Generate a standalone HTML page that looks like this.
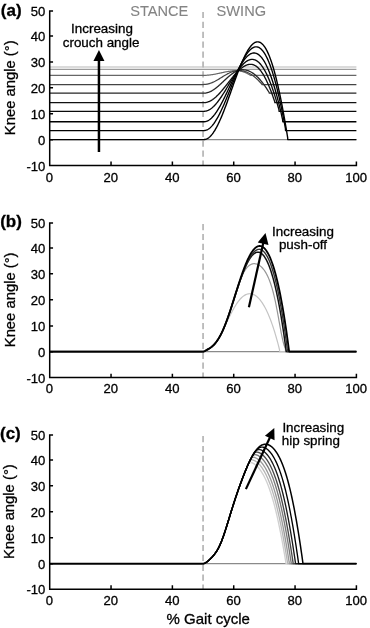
<!DOCTYPE html>
<html><head><meta charset="utf-8"><style>
html,body{margin:0;padding:0;background:#fff;}
svg{display:block;}
</style></head><body>
<svg width="370" height="628" viewBox="0 0 370 628" font-family="'Liberation Sans', Arial, Helvetica, sans-serif" fill="#000">
<style>text{stroke:#000;stroke-width:0.3px;} text.g{stroke:#848484;stroke-width:0.1px;}</style>
<rect width="370" height="628" fill="#fff"/>
<path d="M49.7 139.6H356.4" stroke="#8a8a8a" stroke-width="1.1" fill="none"/>
<path d="M203.05 11.9V165.5" stroke="#9e9e9e" stroke-width="1.3" stroke-dasharray="6.2 3.7" fill="none"/>
<path d="M49.7 67H356.4" stroke="#b8b8b8" stroke-width="1.2" fill="none"/>
<path d="M49.7 69.44H356.4" stroke="#9c9c9c" stroke-width="1.2" fill="none"/>
<path d="M49.7 75.35L203.05 75.35L203.51 75.35L203.97 75.35L204.43 75.34L204.89 75.33L205.35 75.32L205.81 75.3L206.27 75.28L206.73 75.25L207.19 75.22L207.65 75.18L208.11 75.14L208.57 75.1L209.03 75.05L209.49 75L209.95 74.95L210.41 74.89L210.87 74.83L211.33 74.77L211.79 74.7L212.25 74.63L212.71 74.55L213.17 74.48L213.63 74.4L214.09 74.32L214.55 74.23L215.01 74.15L215.47 74.06L215.93 73.97L216.39 73.87L216.85 73.78L217.31 73.68L217.77 73.59L218.23 73.49L218.69 73.39L219.15 73.29L219.61 73.19L220.07 73.09L220.53 72.99L220.99 72.89L221.45 72.79L221.91 72.69L222.37 72.59L222.83 72.5L223.29 72.4L223.75 72.3L224.21 72.21L224.67 72.11L225.13 72.02L225.59 71.93L226.05 71.84L226.51 71.76L226.97 71.68L227.43 71.59L227.89 71.52L228.35 71.44L228.81 71.37L229.27 71.3L229.73 71.23L230.19 71.17L230.65 71.11L231.11 71.05L231.57 71L232.03 70.95L232.49 70.91L232.95 70.87L233.41 70.84L233.87 70.81L234.33 70.78L234.79 70.76L235.25 70.74L235.71 70.73L236.17 70.73L236.63 70.72L237.09 70.73L237.55 70.75L238.01 70.78L238.47 70.81L238.93 70.86L239.39 70.92L239.85 70.99L240.31 71.06L240.77 71.15L241.23 71.25L241.69 71.36L242.15 71.48L242.61 71.61L243.07 71.75L243.53 71.91L243.99 72.07L244.45 72.24L244.91 72.42L245.37 72.62L245.83 72.82L246.29 73.03L246.75 73.26L247.21 73.49L247.67 73.73L248.13 73.98L248.59 74.24L249.05 74.51L249.52 74.79L249.98 75.07L250.28 75.35L356.4 75.35" stroke="#676767" stroke-width="1.2" fill="none" stroke-linejoin="round"/>
<path d="M49.7 84.5L203.05 84.5L203.51 84.5L203.97 84.49L204.43 84.47L204.89 84.45L205.35 84.41L205.81 84.36L206.27 84.3L206.73 84.23L207.19 84.15L207.65 84.06L208.11 83.95L208.57 83.84L209.03 83.71L209.49 83.58L209.95 83.43L210.41 83.28L210.87 83.11L211.33 82.94L211.79 82.76L212.25 82.57L212.71 82.37L213.17 82.16L213.63 81.94L214.09 81.72L214.55 81.49L215.01 81.26L215.47 81.01L215.93 80.76L216.39 80.51L216.85 80.25L217.31 79.99L217.77 79.72L218.23 79.44L218.69 79.17L219.15 78.89L219.61 78.61L220.07 78.33L220.53 78.04L220.99 77.76L221.45 77.47L221.91 77.19L222.37 76.9L222.83 76.62L223.29 76.33L223.75 76.05L224.21 75.77L224.67 75.5L225.13 75.22L225.59 74.95L226.05 74.69L226.51 74.43L226.97 74.17L227.43 73.92L227.89 73.67L228.35 73.43L228.81 73.2L229.27 72.97L229.73 72.75L230.19 72.54L230.65 72.34L231.11 72.14L231.57 71.96L232.03 71.78L232.49 71.61L232.95 71.45L233.41 71.31L233.87 71.17L234.33 71.04L234.79 70.93L235.25 70.83L235.71 70.74L236.17 70.66L236.63 70.6L237.09 70.54L237.55 70.5L238.01 70.48L238.47 70.47L238.93 70.47L239.39 70.48L239.85 70.5L240.31 70.53L240.77 70.58L241.23 70.63L241.69 70.69L242.15 70.77L242.61 70.85L243.07 70.95L243.53 71.06L243.99 71.17L244.45 71.3L244.91 71.44L245.37 71.59L245.83 71.75L246.29 71.93L246.75 72.11L247.21 72.31L247.67 72.51L248.13 72.73L248.59 72.96L249.05 73.2L249.52 73.45L249.98 73.71L250.44 73.99L250.9 74.27L251.36 74.57L251.82 74.88L252.28 75.19L252.74 75.52L253.2 75.86L253.66 76.21L254.12 76.57L254.58 76.95L255.04 77.33L255.5 77.72L255.96 78.13L256.42 78.54L256.88 78.96L257.34 79.4L257.8 79.84L258.26 80.29L258.72 80.76L259.18 81.23L259.64 81.71L260.1 82.2L260.56 82.7L261.02 83.21L261.48 83.72L261.94 84.25L261.94 84.5L356.4 84.5" stroke="#444444" stroke-width="1.25" fill="none" stroke-linejoin="round"/>
<path d="M49.7 93.21L203.05 93.21L203.51 93.21L203.97 93.2L204.43 93.17L204.89 93.14L205.35 93.09L205.81 93.03L206.27 92.95L206.73 92.86L207.19 92.74L207.65 92.62L208.11 92.47L208.57 92.32L209.03 92.15L209.49 91.96L209.95 91.76L210.41 91.55L210.87 91.32L211.33 91.08L211.79 90.83L212.25 90.56L212.71 90.28L213.17 89.99L213.63 89.69L214.09 89.38L214.55 89.06L215.01 88.72L215.47 88.38L215.93 88.02L216.39 87.66L216.85 87.29L217.31 86.91L217.77 86.52L218.23 86.13L218.69 85.73L219.15 85.32L219.61 84.91L220.07 84.5L220.53 84.07L220.99 83.65L221.45 83.22L221.91 82.79L222.37 82.36L222.83 81.93L223.29 81.49L223.75 81.06L224.21 80.63L224.67 80.2L225.13 79.76L225.59 79.34L226.05 78.91L226.51 78.49L226.97 78.07L227.43 77.65L227.89 77.24L228.35 76.84L228.81 76.44L229.27 76.05L229.73 75.66L230.19 75.29L230.65 74.92L231.11 74.55L231.57 74.2L232.03 73.86L232.49 73.53L232.95 73.2L233.41 72.89L233.87 72.59L234.33 72.31L234.79 72.03L235.25 71.77L235.71 71.52L236.17 71.29L236.63 71.07L237.09 70.86L237.55 70.67L238.01 70.5L238.47 70.34L238.93 70.2L239.39 70.07L239.85 69.96L240.31 69.87L240.77 69.8L241.23 69.75L241.69 69.71L242.15 69.7L242.61 69.7L243.07 69.71L243.53 69.74L243.99 69.78L244.45 69.83L244.91 69.9L245.37 69.98L245.83 70.07L246.29 70.18L246.75 70.3L247.21 70.43L247.67 70.57L248.13 70.73L248.59 70.91L249.05 71.09L249.52 71.29L249.98 71.51L250.44 71.74L250.9 71.98L251.36 72.24L251.82 72.51L252.28 72.79L252.74 73.09L253.2 73.4L253.66 73.73L254.12 74.07L254.58 74.43L255.04 74.8L255.5 75.18L255.96 75.57L256.42 75.99L256.88 76.41L257.34 76.85L257.8 77.3L258.26 77.77L258.72 78.25L259.18 78.74L259.64 79.24L260.1 79.76L260.56 80.3L261.02 80.84L261.48 81.4L261.94 81.98L262.4 82.56L262.86 83.16L263.32 83.77L263.78 84.39L264.24 85.03L264.7 85.68L265.16 86.34L265.62 87.01L266.08 87.69L266.54 88.39L267 89.09L267.46 89.81L267.92 90.54L268.38 91.28L268.84 92.03L269.3 92.79L269.3 93.21L356.4 93.21" stroke="#262626" stroke-width="1.3" fill="none" stroke-linejoin="round"/>
<path d="M49.7 102.69L203.05 102.69L203.51 102.69L203.97 102.68L204.43 102.65L204.89 102.62L205.35 102.57L205.81 102.51L206.27 102.42L206.73 102.33L207.19 102.21L207.65 102.07L208.11 101.91L208.57 101.74L209.03 101.56L209.49 101.35L209.95 101.13L210.41 100.89L210.87 100.64L211.33 100.37L211.79 100.09L212.25 99.79L212.71 99.48L213.17 99.15L213.63 98.81L214.09 98.45L214.55 98.08L215.01 97.69L215.47 97.3L215.93 96.89L216.39 96.47L216.85 96.03L217.31 95.58L217.77 95.13L218.23 94.66L218.69 94.18L219.15 93.69L219.61 93.19L220.07 92.69L220.53 92.17L220.99 91.64L221.45 91.11L221.91 90.57L222.37 90.03L222.83 89.47L223.29 88.92L223.75 88.35L224.21 87.79L224.67 87.21L225.13 86.64L225.59 86.06L226.05 85.48L226.51 84.9L226.97 84.31L227.43 83.73L227.89 83.14L228.35 82.56L228.81 81.98L229.27 81.39L229.73 80.81L230.19 80.23L230.65 79.66L231.11 79.08L231.57 78.52L232.03 77.95L232.49 77.39L232.95 76.84L233.41 76.29L233.87 75.75L234.33 75.21L234.79 74.68L235.25 74.16L235.71 73.65L236.17 73.15L236.63 72.65L237.09 72.17L237.55 71.69L238.01 71.23L238.47 70.78L238.93 70.33L239.39 69.91L239.85 69.49L240.31 69.08L240.77 68.69L241.23 68.32L241.69 67.95L242.15 67.6L242.61 67.27L243.07 66.95L243.53 66.65L243.99 66.37L244.45 66.1L244.91 65.85L245.37 65.61L245.83 65.4L246.29 65.2L246.75 65.02L247.21 64.86L247.67 64.72L248.13 64.6L248.59 64.5L249.05 64.42L249.52 64.36L249.98 64.32L250.44 64.3L250.9 64.3L251.36 64.33L251.82 64.39L252.28 64.47L252.74 64.58L253.2 64.71L253.66 64.87L254.12 65.06L254.58 65.28L255.04 65.52L255.5 65.79L255.96 66.08L256.42 66.41L256.88 66.76L257.34 67.14L257.8 67.55L258.26 67.99L258.72 68.45L259.18 68.95L259.64 69.47L260.1 70.02L260.56 70.6L261.02 71.21L261.48 71.84L261.94 72.51L262.4 73.2L262.86 73.92L263.32 74.67L263.78 75.45L264.24 76.25L264.7 77.09L265.16 77.95L265.62 78.84L266.08 79.75L266.54 80.7L267 81.67L267.46 82.66L267.92 83.68L268.38 84.73L268.84 85.81L269.3 86.91L269.76 88.04L270.22 89.19L270.68 90.37L271.14 91.57L271.6 92.79L272.06 94.04L272.52 95.31L272.98 96.61L273.44 97.92L273.9 99.26L274.36 100.63L274.82 102.01L274.82 102.69L356.4 102.69" stroke="#111111" stroke-width="1.35" fill="none" stroke-linejoin="round"/>
<path d="M49.7 111.33L203.05 111.33L203.51 111.33L203.97 111.31L204.43 111.28L204.89 111.23L205.35 111.17L205.81 111.09L206.27 110.99L206.73 110.87L207.19 110.72L207.65 110.54L208.11 110.35L208.57 110.13L209.03 109.9L209.49 109.64L209.95 109.36L210.41 109.06L210.87 108.74L211.33 108.4L211.79 108.04L212.25 107.66L212.71 107.26L213.17 106.84L213.63 106.41L214.09 105.95L214.55 105.48L215.01 104.99L215.47 104.49L215.93 103.96L216.39 103.43L216.85 102.87L217.31 102.3L217.77 101.72L218.23 101.12L218.69 100.51L219.15 99.88L219.61 99.24L220.07 98.59L220.53 97.93L220.99 97.25L221.45 96.57L221.91 95.87L222.37 95.17L222.83 94.46L223.29 93.74L223.75 93.01L224.21 92.27L224.67 91.53L225.13 90.79L225.59 90.03L226.05 89.28L226.51 88.52L226.97 87.76L227.43 87L227.89 86.23L228.35 85.46L228.81 84.7L229.27 83.93L229.73 83.17L230.19 82.4L230.65 81.64L231.11 80.89L231.57 80.13L232.03 79.38L232.49 78.64L232.95 77.9L233.41 77.17L233.87 76.44L234.33 75.72L234.79 75.01L235.25 74.31L235.71 73.61L236.17 72.93L236.63 72.25L237.09 71.59L237.55 70.94L238.01 70.3L238.47 69.67L238.93 69.06L239.39 68.46L239.85 67.87L240.31 67.3L240.77 66.75L241.23 66.21L241.69 65.69L242.15 65.18L242.61 64.69L243.07 64.22L243.53 63.77L243.99 63.34L244.45 62.93L244.91 62.53L245.37 62.16L245.83 61.81L246.29 61.49L246.75 61.18L247.21 60.9L247.67 60.64L248.13 60.4L248.59 60.19L249.05 60.01L249.52 59.84L249.98 59.71L250.44 59.6L250.9 59.51L251.36 59.45L251.82 59.42L252.28 59.42L252.74 59.44L253.2 59.49L253.66 59.57L254.12 59.68L254.58 59.81L255.04 59.98L255.5 60.17L255.96 60.4L256.42 60.65L256.88 60.93L257.34 61.24L257.8 61.59L258.26 61.96L258.72 62.36L259.18 62.79L259.64 63.26L260.1 63.75L260.56 64.28L261.02 64.83L261.48 65.42L261.94 66.04L262.4 66.69L262.86 67.37L263.32 68.08L263.78 68.82L264.24 69.6L264.7 70.4L265.16 71.23L265.62 72.1L266.08 73L266.54 73.92L267 74.88L267.46 75.87L267.92 76.89L268.38 77.93L268.84 79.01L269.3 80.12L269.76 81.26L270.22 82.43L270.68 83.62L271.14 84.85L271.6 86.1L272.06 87.38L272.52 88.7L272.98 90.03L273.44 91.4L273.9 92.8L274.36 94.22L274.82 95.66L275.28 97.14L275.74 98.64L276.2 100.17L276.66 101.72L277.12 103.29L277.58 104.89L278.04 106.52L278.5 108.17L278.96 109.84L279.11 111.33L356.4 111.33" stroke="#0a0a0a" stroke-width="1.35" fill="none" stroke-linejoin="round"/>
<path d="M49.7 121.79L203.05 121.79L203.51 121.78L203.97 121.76L204.43 121.73L204.89 121.67L205.35 121.6L205.81 121.5L206.27 121.38L206.73 121.23L207.19 121.05L207.65 120.83L208.11 120.6L208.57 120.33L209.03 120.04L209.49 119.72L209.95 119.38L210.41 119.01L210.87 118.62L211.33 118.2L211.79 117.76L212.25 117.29L212.71 116.8L213.17 116.29L213.63 115.75L214.09 115.19L214.55 114.61L215.01 114L215.47 113.38L215.93 112.73L216.39 112.06L216.85 111.38L217.31 110.67L217.77 109.94L218.23 109.2L218.69 108.44L219.15 107.66L219.61 106.87L220.07 106.06L220.53 105.23L220.99 104.39L221.45 103.53L221.91 102.67L222.37 101.78L222.83 100.89L223.29 99.99L223.75 99.07L224.21 98.15L224.67 97.22L225.13 96.28L225.59 95.33L226.05 94.37L226.51 93.41L226.97 92.45L227.43 91.48L227.89 90.5L228.35 89.53L228.81 88.55L229.27 87.57L229.73 86.59L230.19 85.62L230.65 84.64L231.11 83.66L231.57 82.69L232.03 81.72L232.49 80.76L232.95 79.8L233.41 78.84L233.87 77.9L234.33 76.96L234.79 76.03L235.25 75.1L235.71 74.19L236.17 73.28L236.63 72.39L237.09 71.51L237.55 70.64L238.01 69.78L238.47 68.94L238.93 68.11L239.39 67.29L239.85 66.49L240.31 65.71L240.77 64.95L241.23 64.2L241.69 63.47L242.15 62.76L242.61 62.07L243.07 61.4L243.53 60.75L243.99 60.12L244.45 59.51L244.91 58.93L245.37 58.37L245.83 57.84L246.29 57.33L246.75 56.84L247.21 56.38L247.67 55.95L248.13 55.55L248.59 55.17L249.05 54.82L249.52 54.5L249.98 54.21L250.44 53.95L250.9 53.72L251.36 53.52L251.82 53.35L252.28 53.21L252.74 53.11L253.2 53.04L253.66 53L254.12 52.99L254.58 53.02L255.04 53.08L255.5 53.17L255.96 53.29L256.42 53.45L256.88 53.64L257.34 53.87L257.8 54.13L258.26 54.42L258.72 54.75L259.18 55.11L259.64 55.51L260.1 55.94L260.56 56.4L261.02 56.91L261.48 57.44L261.94 58.02L262.4 58.62L262.86 59.27L263.32 59.95L263.78 60.66L264.24 61.42L264.7 62.2L265.16 63.03L265.62 63.89L266.08 64.78L266.54 65.71L267 66.68L267.46 67.69L267.92 68.72L268.38 69.8L268.84 70.91L269.3 72.06L269.76 73.24L270.22 74.46L270.68 75.71L271.14 77L271.6 78.32L272.06 79.67L272.52 81.07L272.98 82.49L273.44 83.95L273.9 85.45L274.36 86.97L274.82 88.54L275.28 90.13L275.74 91.76L276.2 93.42L276.66 95.11L277.12 96.83L277.58 98.59L278.04 100.37L278.5 102.19L278.96 104.04L279.42 105.91L279.88 107.82L280.34 109.76L280.8 111.72L281.26 113.72L281.72 115.74L282.18 117.79L282.64 119.86L282.79 121.79L356.4 121.79" stroke="#000" stroke-width="1.35" fill="none" stroke-linejoin="round"/>
<path d="M49.7 130.6L203.05 130.6L203.51 130.6L203.97 130.58L204.43 130.54L204.89 130.48L205.35 130.39L205.81 130.28L206.27 130.15L206.73 129.98L207.19 129.78L207.65 129.55L208.11 129.28L208.57 128.99L209.03 128.66L209.49 128.31L209.95 127.93L210.41 127.52L210.87 127.08L211.33 126.61L211.79 126.11L212.25 125.59L212.71 125.04L213.17 124.46L213.63 123.86L214.09 123.23L214.55 122.57L215.01 121.89L215.47 121.19L215.93 120.46L216.39 119.71L216.85 118.93L217.31 118.14L217.77 117.32L218.23 116.48L218.69 115.62L219.15 114.74L219.61 113.84L220.07 112.92L220.53 111.98L220.99 111.02L221.45 110.05L221.91 109.06L222.37 108.06L222.83 107.04L223.29 106.01L223.75 104.96L224.21 103.9L224.67 102.83L225.13 101.75L225.59 100.66L226.05 99.56L226.51 98.45L226.97 97.34L227.43 96.22L227.89 95.09L228.35 93.96L228.81 92.82L229.27 91.68L229.73 90.54L230.19 89.4L230.65 88.25L231.11 87.11L231.57 85.97L232.03 84.83L232.49 83.69L232.95 82.55L233.41 81.42L233.87 80.3L234.33 79.18L234.79 78.07L235.25 76.96L235.71 75.86L236.17 74.78L236.63 73.7L237.09 72.63L237.55 71.57L238.01 70.53L238.47 69.5L238.93 68.48L239.39 67.47L239.85 66.48L240.31 65.51L240.77 64.55L241.23 63.61L241.69 62.69L242.15 61.79L242.61 60.91L243.07 60.04L243.53 59.2L243.99 58.38L244.45 57.58L244.91 56.81L245.37 56.05L245.83 55.33L246.29 54.63L246.75 53.95L247.21 53.3L247.67 52.68L248.13 52.08L248.59 51.52L249.05 50.98L249.52 50.47L249.98 50L250.44 49.55L250.9 49.14L251.36 48.75L251.82 48.4L252.28 48.09L252.74 47.81L253.2 47.56L253.66 47.35L254.12 47.17L254.58 47.03L255.04 46.92L255.5 46.86L255.96 46.83L256.42 46.83L256.88 46.88L257.34 46.96L257.8 47.08L258.26 47.23L258.72 47.43L259.18 47.67L259.64 47.94L260.1 48.26L260.56 48.61L261.02 49.01L261.48 49.44L261.94 49.92L262.4 50.44L262.86 51L263.32 51.59L263.78 52.24L264.24 52.92L264.7 53.64L265.16 54.41L265.62 55.21L266.08 56.06L266.54 56.95L267 57.89L267.46 58.86L267.92 59.88L268.38 60.94L268.84 62.04L269.3 63.18L269.76 64.36L270.22 65.59L270.68 66.86L271.14 68.17L271.6 69.52L272.06 70.91L272.52 72.35L272.98 73.83L273.44 75.34L273.9 76.9L274.36 78.5L274.82 80.14L275.28 81.82L275.74 83.53L276.2 85.29L276.66 87.09L277.12 88.93L277.58 90.8L278.04 92.72L278.5 94.67L278.96 96.66L279.42 98.69L279.88 100.76L280.34 102.86L280.8 105L281.26 107.17L281.72 109.38L282.18 111.62L282.64 113.9L283.1 116.22L283.56 118.56L284.02 120.94L284.48 123.35L284.94 125.8L285.4 128.27L285.55 130.6L356.4 130.6" stroke="#000" stroke-width="1.35" fill="none" stroke-linejoin="round"/>
<path d="M49.7 139.6L203.05 139.6L203.51 139.59L203.97 139.57L204.43 139.52L204.89 139.46L205.35 139.37L205.81 139.25L206.27 139.1L206.73 138.92L207.19 138.7L207.65 138.45L208.11 138.16L208.57 137.83L209.03 137.48L209.49 137.09L209.95 136.67L210.41 136.21L210.87 135.73L211.33 135.21L211.79 134.67L212.25 134.09L212.71 133.48L213.17 132.85L213.63 132.18L214.09 131.48L214.55 130.76L215.01 130.01L215.47 129.23L215.93 128.43L216.39 127.6L216.85 126.74L217.31 125.85L217.77 124.95L218.23 124.02L218.69 123.06L219.15 122.08L219.61 121.08L220.07 120.06L220.53 119.02L220.99 117.96L221.45 116.87L221.91 115.77L222.37 114.65L222.83 113.52L223.29 112.37L223.75 111.2L224.21 110.02L224.67 108.82L225.13 107.61L225.59 106.39L226.05 105.15L226.51 103.91L226.97 102.66L227.43 101.4L227.89 100.13L228.35 98.85L228.81 97.57L229.27 96.28L229.73 94.99L230.19 93.7L230.65 92.4L231.11 91.11L231.57 89.81L232.03 88.51L232.49 87.22L232.95 85.92L233.41 84.63L233.87 83.35L234.33 82.07L234.79 80.79L235.25 79.52L235.71 78.26L236.17 77L236.63 75.76L237.09 74.52L237.55 73.3L238.01 72.09L238.47 70.89L238.93 69.7L239.39 68.52L239.85 67.37L240.31 66.22L240.77 65.1L241.23 63.99L241.69 62.89L242.15 61.82L242.61 60.77L243.07 59.73L243.53 58.72L243.99 57.73L244.45 56.77L244.91 55.82L245.37 54.9L245.83 54.01L246.29 53.14L246.75 52.3L247.21 51.48L247.67 50.69L248.13 49.93L248.59 49.21L249.05 48.51L249.52 47.84L249.98 47.2L250.44 46.6L250.9 46.03L251.36 45.49L251.82 44.99L252.28 44.52L252.74 44.08L253.2 43.69L253.66 43.33L254.12 43.01L254.58 42.72L255.04 42.47L255.5 42.27L255.96 42.1L256.42 41.97L256.88 41.88L257.34 41.84L257.8 41.83L258.26 41.87L258.72 41.95L259.18 42.07L259.64 42.23L260.1 42.44L260.56 42.69L261.02 42.98L261.48 43.32L261.94 43.71L262.4 44.14L262.86 44.61L263.32 45.13L263.78 45.69L264.24 46.3L264.7 46.96L265.16 47.66L265.62 48.41L266.08 49.2L266.54 50.04L267 50.93L267.46 51.87L267.92 52.85L268.38 53.88L268.84 54.95L269.3 56.07L269.76 57.24L270.22 58.46L270.68 59.72L271.14 61.03L271.6 62.39L272.06 63.8L272.52 65.25L272.98 66.74L273.44 68.29L273.9 69.88L274.36 71.51L274.82 73.2L275.28 74.93L275.74 76.7L276.2 78.52L276.66 80.39L277.12 82.3L277.58 84.25L278.04 86.25L278.5 88.29L278.96 90.38L279.42 92.51L279.88 94.69L280.34 96.9L280.8 99.16L281.26 101.47L281.72 103.81L282.18 106.19L282.64 108.62L283.1 111.09L283.56 113.59L284.02 116.14L284.48 118.72L284.94 121.34L285.4 124L285.86 126.7L286.32 129.43L286.78 132.2L287.24 135.01L287.7 137.85L287.7 139.6L356.4 139.6" stroke="#000" stroke-width="1.4" fill="none" stroke-linejoin="round"/>
<path d="M49.7 11V165.5H356.4M49.7 165.5h2.6M49.7 139.75h2.6M49.7 113.8h2.6M49.7 87.8h2.6M49.7 61.9h2.6M49.7 35.9h2.6M49.7 11h2.6M49.7 165.5v-3.2M111.04 165.5v-3.2M172.38 165.5v-3.2M233.72 165.5v-3.2M295.06 165.5v-3.2M356.4 165.5v-3.2" stroke="#000" stroke-width="1.5" fill="none" stroke-linecap="square"/>
<text x="45.4" y="170.5" text-anchor="end" font-size="13.1">-10</text>
<text x="45.4" y="144.75" text-anchor="end" font-size="13.1">0</text>
<text x="45.4" y="118.8" text-anchor="end" font-size="13.1">10</text>
<text x="45.4" y="92.8" text-anchor="end" font-size="13.1">20</text>
<text x="45.4" y="66.9" text-anchor="end" font-size="13.1">30</text>
<text x="45.4" y="40.9" text-anchor="end" font-size="13.1">40</text>
<text x="45.4" y="16" text-anchor="end" font-size="13.1">50</text>
<text x="49.5" y="182.2" text-anchor="middle" font-size="13.1">0</text>
<text x="110.84" y="182.2" text-anchor="middle" font-size="13.1">20</text>
<text x="172.18" y="182.2" text-anchor="middle" font-size="13.1">40</text>
<text x="233.52" y="182.2" text-anchor="middle" font-size="13.1">60</text>
<text x="294.86" y="182.2" text-anchor="middle" font-size="13.1">80</text>
<text x="356.2" y="182.2" text-anchor="middle" font-size="13.1">100</text>
<text transform="translate(15.4 87.75) rotate(-90)" text-anchor="middle" font-size="14.8">Knee angle (°)</text>
<path d="M49.7 351.6H356.4" stroke="#8a8a8a" stroke-width="1.1" fill="none"/>
<path d="M203.05 224V377.6" stroke="#9e9e9e" stroke-width="1.3" stroke-dasharray="6.2 3.7" fill="none"/>
<path d="M49.7 351.6L203.05 351.6L203.51 351.57L203.97 351.48L204.43 351.33L204.89 351.15L205.35 350.93L205.81 350.69L206.27 350.43L206.73 350.17L207.19 349.91L207.65 349.66L208.11 349.41L208.57 349.15L209.03 348.87L209.49 348.57L209.95 348.25L210.41 347.92L210.87 347.56L211.33 347.18L211.79 346.78L212.25 346.35L212.71 345.91L213.17 345.44L213.63 344.94L214.09 344.42L214.55 343.88L215.01 343.31L215.47 342.72L215.93 342.11L216.39 341.47L216.85 340.81L217.31 340.12L217.77 339.41L218.23 338.68L218.69 337.93L219.15 337.16L219.61 336.37L220.07 335.55L220.53 334.72L220.99 333.88L221.45 333.01L221.91 332.13L222.37 331.24L222.83 330.33L223.29 329.41L223.75 328.48L224.21 327.55L224.67 326.6L225.13 325.65L225.59 324.7L226.05 323.74L226.51 322.78L226.97 321.82L227.43 320.86L227.89 319.91L228.35 318.96L228.81 318.01L229.27 317.08L229.73 316.15L230.19 315.22L230.65 314.31L231.11 313.41L231.57 312.52L232.03 311.65L232.49 310.78L232.95 309.94L233.41 309.1L233.87 308.29L234.33 307.49L234.79 306.71L235.25 305.95L235.71 305.21L236.17 304.48L236.63 303.78L237.09 303.1L237.55 302.44L238.01 301.81L238.47 301.19L238.93 300.6L239.39 300.03L239.85 299.49L240.31 298.97L240.77 298.47L241.23 298L241.69 297.55L242.15 297.13L242.61 296.73L243.07 296.36L243.53 296.01L243.99 295.69L244.45 295.39L244.91 295.12L245.37 294.87L245.83 294.64L246.29 294.44L246.75 294.27L247.21 294.11L247.67 293.99L248.13 293.89L248.59 293.81L249.05 293.76L249.52 293.73L249.98 293.72L250.44 293.74L250.9 293.79L251.36 293.86L251.82 293.95L252.28 294.07L252.74 294.22L253.2 294.39L253.66 294.58L254.12 294.8L254.58 295.05L255.04 295.32L255.5 295.61L255.96 295.93L256.42 296.28L256.88 296.65L257.34 297.04L257.8 297.46L258.26 297.91L258.72 298.39L259.18 298.88L259.64 299.41L260.1 299.96L260.56 300.54L261.02 301.15L261.48 301.78L261.94 302.44L262.4 303.12L262.86 303.83L263.32 304.57L263.78 305.34L264.24 306.14L264.7 306.96L265.16 307.81L265.62 308.69L266.08 309.6L266.54 310.53L267 311.5L267.46 312.49L267.92 313.52L268.38 314.57L268.84 315.65L269.3 316.76L269.76 317.91L270.22 319.08L270.68 320.28L271.14 321.52L271.6 322.78L272.06 324.08L272.52 325.41L272.98 326.77L273.44 328.16L273.9 329.59L274.36 331.05L274.82 332.54L275.28 334.07L275.74 335.62L276.2 337.22L276.66 338.84L277.12 340.51L277.58 342.2L278.04 343.94L278.5 345.7L278.96 347.51L279.42 349.35L279.73 351.6L356.4 351.6" stroke="#c4c4c4" stroke-width="1.2" fill="none" stroke-linejoin="round"/>
<path d="M49.7 351.6L203.05 351.6L203.51 351.59L203.97 351.56L204.43 351.5L204.89 351.42L205.35 351.3L205.81 351.16L206.27 350.98L206.73 350.76L207.19 350.5L207.65 350.2L208.11 349.86L208.57 349.51L209.03 349.13L209.49 348.73L209.95 348.31L210.41 347.88L210.87 347.43L211.33 346.97L211.79 346.49L212.25 346.01L212.71 345.51L213.17 345.01L213.63 344.49L214.09 343.97L214.55 343.43L215.01 342.89L215.47 342.33L215.93 341.77L216.39 341.19L216.85 340.59L217.31 339.98L217.77 339.36L218.23 338.71L218.69 338.05L219.15 337.37L219.61 336.66L220.07 335.92L220.53 335.15L220.99 334.35L221.45 333.52L221.91 332.64L222.37 331.73L222.83 330.78L223.29 329.78L223.75 328.74L224.21 327.66L224.67 326.53L225.13 325.36L225.59 324.15L226.05 322.9L226.51 321.61L226.97 320.28L227.43 318.92L227.89 317.53L228.35 316.11L228.81 314.67L229.27 313.21L229.73 311.73L230.19 310.24L230.65 308.74L231.11 307.23L231.57 305.72L232.03 304.2L232.49 302.69L232.95 301.19L233.41 299.69L233.87 298.2L234.33 296.73L234.79 295.27L235.25 293.82L235.71 292.4L236.17 291L236.63 289.62L237.09 288.26L237.55 286.94L238.01 285.64L238.47 284.37L238.93 283.14L239.39 281.93L239.85 280.76L240.31 279.63L240.77 278.53L241.23 277.47L241.69 276.45L242.15 275.47L242.61 274.52L243.07 273.62L243.53 272.76L243.99 271.93L244.45 271.15L244.91 270.41L245.37 269.72L245.83 269.06L246.29 268.45L246.75 267.87L247.21 267.34L247.67 266.84L248.13 266.39L248.59 265.98L249.05 265.6L249.52 265.26L249.98 264.96L250.44 264.69L250.9 264.45L251.36 264.25L251.82 264.08L252.28 263.95L252.74 263.84L253.2 263.76L253.66 263.71L254.12 263.69L254.58 263.7L255.04 263.73L255.5 263.79L255.96 263.88L256.42 264L256.88 264.14L257.34 264.3L257.8 264.5L258.26 264.72L258.72 264.97L259.18 265.24L259.64 265.55L260.1 265.88L260.56 266.24L261.02 266.63L261.48 267.05L261.94 267.5L262.4 267.98L262.86 268.5L263.32 269.05L263.78 269.64L264.24 270.27L264.7 270.93L265.16 271.63L265.62 272.37L266.08 273.16L266.54 273.99L267 274.87L267.46 275.8L267.92 276.77L268.38 277.8L268.84 278.89L269.3 280.03L269.76 281.23L270.22 282.49L270.68 283.81L271.14 285.21L271.6 286.67L272.06 288.2L272.52 289.81L272.98 291.5L273.44 293.26L273.9 295.11L274.36 297.05L274.82 299.07L275.28 301.19L275.74 303.38L276.2 305.66L276.66 308.01L277.12 310.43L277.58 312.9L278.04 315.42L278.5 317.98L278.96 320.55L279.42 323.13L279.88 325.68L280.34 328.21L280.8 330.67L281.26 333.06L281.72 335.36L282.18 337.56L282.64 339.63L283.1 341.56L283.56 343.35L284.02 344.97L284.48 346.41L284.94 347.68L285.4 348.75L285.55 351.6L356.4 351.6" stroke="#969696" stroke-width="1.2" fill="none" stroke-linejoin="round"/>
<path d="M49.7 351.6L203.05 351.6L203.51 351.56L203.97 351.44L204.43 351.27L204.89 351.04L205.35 350.79L205.81 350.51L206.27 350.22L206.73 349.93L207.19 349.66L207.65 349.42L208.11 349.18L208.57 348.93L209.03 348.67L209.49 348.39L209.95 348.1L210.41 347.79L210.87 347.47L211.33 347.13L211.79 346.76L212.25 346.38L212.71 345.98L213.17 345.55L213.63 345.09L214.09 344.62L214.55 344.12L215.01 343.59L215.47 343.03L215.93 342.45L216.39 341.84L216.85 341.2L217.31 340.53L217.77 339.84L218.23 339.11L218.69 338.36L219.15 337.57L219.61 336.76L220.07 335.91L220.53 335.04L220.99 334.14L221.45 333.21L221.91 332.24L222.37 331.25L222.83 330.24L223.29 329.19L223.75 328.11L224.21 327.01L224.67 325.89L225.13 324.73L225.59 323.55L226.05 322.35L226.51 321.13L226.97 319.88L227.43 318.61L227.89 317.32L228.35 316.01L228.81 314.69L229.27 313.35L229.73 311.99L230.19 310.62L230.65 309.23L231.11 307.84L231.57 306.43L232.03 305.02L232.49 303.6L232.95 302.18L233.41 300.75L233.87 299.32L234.33 297.9L234.79 296.47L235.25 295.05L235.71 293.63L236.17 292.22L236.63 290.81L237.09 289.41L237.55 288.02L238.01 286.65L238.47 285.28L238.93 283.93L239.39 282.6L239.85 281.28L240.31 279.97L240.77 278.69L241.23 277.42L241.69 276.18L242.15 274.95L242.61 273.75L243.07 272.58L243.53 271.42L243.99 270.3L244.45 269.2L244.91 268.12L245.37 267.08L245.83 266.06L246.29 265.08L246.75 264.12L247.21 263.2L247.67 262.31L248.13 261.45L248.59 260.63L249.05 259.84L249.52 259.09L249.98 258.37L250.44 257.69L250.9 257.05L251.36 256.44L251.82 255.87L252.28 255.34L252.74 254.85L253.2 254.4L253.66 253.99L254.12 253.61L254.58 253.28L255.04 253L255.5 252.75L255.96 252.54L256.42 252.38L256.88 252.26L257.34 252.18L257.8 252.14L258.26 252.15L258.72 252.2L259.18 252.3L259.64 252.44L260.1 252.63L260.56 252.86L261.02 253.14L261.48 253.47L261.94 253.84L262.4 254.26L262.86 254.73L263.32 255.24L263.78 255.8L264.24 256.42L264.7 257.08L265.16 257.79L265.62 258.55L266.08 259.36L266.54 260.22L267 261.13L267.46 262.1L267.92 263.12L268.38 264.19L268.84 265.31L269.3 266.48L269.76 267.71L270.22 269L270.68 270.34L271.14 271.73L271.6 273.18L272.06 274.69L272.52 276.25L272.98 277.87L273.44 279.55L273.9 281.28L274.36 283.08L274.82 284.94L275.28 286.85L275.74 288.83L276.2 290.86L276.66 292.96L277.12 295.12L277.58 297.34L278.04 299.63L278.5 301.98L278.96 304.4L279.42 306.87L279.88 309.42L280.34 312.03L280.8 314.71L281.26 317.46L281.72 320.27L282.18 323.15L282.64 326.11L283.1 329.13L283.56 332.22L284.02 335.39L284.48 338.62L284.94 341.93L285.4 345.31L285.86 348.77L286.32 351.6L286.32 351.6L356.4 351.6" stroke="#111" stroke-width="1.5" fill="none" stroke-linejoin="round"/>
<path d="M49.7 351.6L203.05 351.6L203.51 351.56L203.97 351.45L204.43 351.27L204.89 351.05L205.35 350.79L205.81 350.51L206.27 350.22L206.73 349.93L207.19 349.66L207.65 349.41L208.11 349.17L208.57 348.92L209.03 348.66L209.49 348.39L209.95 348.1L210.41 347.8L210.87 347.48L211.33 347.14L211.79 346.78L212.25 346.41L212.71 346.01L213.17 345.59L213.63 345.15L214.09 344.68L214.55 344.19L215.01 343.67L215.47 343.13L215.93 342.56L216.39 341.96L216.85 341.34L217.31 340.69L217.77 340.01L218.23 339.3L218.69 338.56L219.15 337.79L219.61 337L220.07 336.17L220.53 335.32L220.99 334.44L221.45 333.52L221.91 332.58L222.37 331.61L222.83 330.61L223.29 329.59L223.75 328.53L224.21 327.45L224.67 326.35L225.13 325.21L225.59 324.05L226.05 322.87L226.51 321.66L226.97 320.43L227.43 319.18L227.89 317.91L228.35 316.62L228.81 315.31L229.27 313.98L229.73 312.63L230.19 311.27L230.65 309.89L231.11 308.5L231.57 307.1L232.03 305.69L232.49 304.28L232.95 302.85L233.41 301.42L233.87 299.99L234.33 298.55L234.79 297.12L235.25 295.68L235.71 294.25L236.17 292.82L236.63 291.39L237.09 289.97L237.55 288.56L238.01 287.16L238.47 285.77L238.93 284.39L239.39 283.02L239.85 281.66L240.31 280.32L240.77 279L241.23 277.69L241.69 276.4L242.15 275.13L242.61 273.88L243.07 272.65L243.53 271.45L243.99 270.27L244.45 269.11L244.91 267.97L245.37 266.87L245.83 265.79L246.29 264.74L246.75 263.71L247.21 262.72L247.67 261.75L248.13 260.82L248.59 259.92L249.05 259.05L249.52 258.22L249.98 257.42L250.44 256.65L250.9 255.92L251.36 255.22L251.82 254.56L252.28 253.94L252.74 253.35L253.2 252.81L253.66 252.3L254.12 251.83L254.58 251.4L255.04 251L255.5 250.65L255.96 250.34L256.42 250.07L256.88 249.84L257.34 249.65L257.8 249.5L258.26 249.4L258.72 249.33L259.18 249.31L259.64 249.34L260.1 249.41L260.56 249.52L261.02 249.68L261.48 249.88L261.94 250.14L262.4 250.44L262.86 250.78L263.32 251.18L263.78 251.62L264.24 252.11L264.7 252.65L265.16 253.24L265.62 253.88L266.08 254.57L266.54 255.31L267 256.1L267.46 256.94L267.92 257.84L268.38 258.78L268.84 259.78L269.3 260.83L269.76 261.94L270.22 263.1L270.68 264.31L271.14 265.58L271.6 266.9L272.06 268.28L272.52 269.72L272.98 271.21L273.44 272.76L273.9 274.37L274.36 276.04L274.82 277.77L275.28 279.55L275.74 281.4L276.2 283.3L276.66 285.27L277.12 287.3L277.58 289.39L278.04 291.54L278.5 293.76L278.96 296.04L279.42 298.38L279.88 300.79L280.34 303.27L280.8 305.81L281.26 308.42L281.72 311.1L282.18 313.84L282.64 316.66L283.1 319.54L283.56 322.49L284.02 325.51L284.48 328.61L284.94 331.77L285.4 335.01L285.86 338.32L286.32 341.71L286.78 345.17L287.24 348.71L287.7 351.6L287.7 351.6L356.4 351.6" stroke="#333" stroke-width="1.4" fill="none" stroke-linejoin="round"/>
<path d="M49.7 351.6L203.05 351.6L203.51 351.56L203.97 351.44L204.43 351.27L204.89 351.04L205.35 350.78L205.81 350.49L206.27 350.2L206.73 349.9L207.19 349.62L207.65 349.36L208.11 349.12L208.57 348.86L209.03 348.6L209.49 348.32L209.95 348.03L210.41 347.72L210.87 347.4L211.33 347.05L211.79 346.69L212.25 346.31L212.71 345.91L213.17 345.48L213.63 345.04L214.09 344.56L214.55 344.07L215.01 343.54L215.47 342.99L215.93 342.42L216.39 341.82L216.85 341.19L217.31 340.53L217.77 339.84L218.23 339.12L218.69 338.38L219.15 337.6L219.61 336.8L220.07 335.96L220.53 335.1L220.99 334.21L221.45 333.28L221.91 332.33L222.37 331.35L222.83 330.34L223.29 329.3L223.75 328.23L224.21 327.14L224.67 326.02L225.13 324.87L225.59 323.7L226.05 322.5L226.51 321.28L226.97 320.03L227.43 318.76L227.89 317.47L228.35 316.15L228.81 314.82L229.27 313.47L229.73 312.1L230.19 310.72L230.65 309.32L231.11 307.9L231.57 306.48L232.03 305.04L232.49 303.6L232.95 302.14L233.41 300.68L233.87 299.22L234.33 297.75L234.79 296.28L235.25 294.81L235.71 293.34L236.17 291.88L236.63 290.42L237.09 288.96L237.55 287.51L238.01 286.07L238.47 284.64L238.93 283.22L239.39 281.81L239.85 280.41L240.31 279.03L240.77 277.66L241.23 276.31L241.69 274.98L242.15 273.66L242.61 272.37L243.07 271.09L243.53 269.84L243.99 268.61L244.45 267.41L244.91 266.23L245.37 265.07L245.83 263.95L246.29 262.84L246.75 261.77L247.21 260.73L247.67 259.72L248.13 258.73L248.59 257.78L249.05 256.86L249.52 255.98L249.98 255.13L250.44 254.31L250.9 253.53L251.36 252.78L251.82 252.07L252.28 251.4L252.74 250.76L253.2 250.16L253.66 249.6L254.12 249.08L254.58 248.6L255.04 248.15L255.5 247.75L255.96 247.39L256.42 247.07L256.88 246.79L257.34 246.55L257.8 246.35L258.26 246.2L258.72 246.09L259.18 246.02L259.64 245.99L260.1 246.01L260.56 246.07L261.02 246.17L261.48 246.32L261.94 246.51L262.4 246.75L262.86 247.03L263.32 247.36L263.78 247.73L264.24 248.15L264.7 248.62L265.16 249.13L265.62 249.7L266.08 250.3L266.54 250.96L267 251.66L267.46 252.42L267.92 253.22L268.38 254.07L268.84 254.97L269.3 255.93L269.76 256.93L270.22 257.98L270.68 259.09L271.14 260.25L271.6 261.46L272.06 262.72L272.52 264.04L272.98 265.41L273.44 266.83L273.9 268.31L274.36 269.84L274.82 271.43L275.28 273.08L275.74 274.78L276.2 276.54L276.66 278.36L277.12 280.23L277.58 282.17L278.04 284.16L278.5 286.21L278.96 288.33L279.42 290.5L279.88 292.73L280.34 295.03L280.8 297.39L281.26 299.81L281.72 302.29L282.18 304.84L282.64 307.46L283.1 310.13L283.56 312.88L284.02 315.69L284.48 318.56L284.94 321.51L285.4 324.52L285.86 327.6L286.32 330.75L286.78 333.97L287.24 337.26L287.7 340.62L288.16 344.05L288.62 347.56L289.08 351.13L289.23 351.6L356.4 351.6" stroke="#000" stroke-width="1.8" fill="none" stroke-linejoin="round"/>
<path d="M49.7 223.1V377.6H356.4M49.7 377.6h2.6M49.7 351.75h2.6M49.7 325.9h2.6M49.7 299.8h2.6M49.7 273.85h2.6M49.7 247.9h2.6M49.7 223.1h2.6M49.7 377.6v-3.2M111.04 377.6v-3.2M172.38 377.6v-3.2M233.72 377.6v-3.2M295.06 377.6v-3.2M356.4 377.6v-3.2" stroke="#000" stroke-width="1.5" fill="none" stroke-linecap="square"/>
<text x="45.4" y="382.6" text-anchor="end" font-size="13.1">-10</text>
<text x="45.4" y="356.75" text-anchor="end" font-size="13.1">0</text>
<text x="45.4" y="330.9" text-anchor="end" font-size="13.1">10</text>
<text x="45.4" y="304.8" text-anchor="end" font-size="13.1">20</text>
<text x="45.4" y="278.85" text-anchor="end" font-size="13.1">30</text>
<text x="45.4" y="252.9" text-anchor="end" font-size="13.1">40</text>
<text x="45.4" y="228.1" text-anchor="end" font-size="13.1">50</text>
<text x="49.5" y="393" text-anchor="middle" font-size="13.1">0</text>
<text x="110.84" y="393" text-anchor="middle" font-size="13.1">20</text>
<text x="172.18" y="393" text-anchor="middle" font-size="13.1">40</text>
<text x="233.52" y="393" text-anchor="middle" font-size="13.1">60</text>
<text x="294.86" y="393" text-anchor="middle" font-size="13.1">80</text>
<text x="356.2" y="393" text-anchor="middle" font-size="13.1">100</text>
<text transform="translate(15.0 299.85) rotate(-90)" text-anchor="middle" font-size="14.8">Knee angle (°)</text>
<path d="M49.7 563.6H356.4" stroke="#8a8a8a" stroke-width="1.1" fill="none"/>
<path d="M203.05 436V589.2" stroke="#9e9e9e" stroke-width="1.3" stroke-dasharray="6.2 3.7" fill="none"/>
<path d="M49.7 563.6L203.05 563.6L203.51 563.57L203.97 563.48L204.43 563.33L204.89 563.14L205.35 562.9L205.81 562.63L206.27 562.32L206.73 562L207.19 561.65L207.65 561.29L208.11 560.91L208.57 560.52L209.03 560.11L209.49 559.69L209.95 559.26L210.41 558.81L210.87 558.35L211.33 557.88L211.79 557.39L212.25 556.89L212.71 556.38L213.17 555.85L213.63 555.31L214.09 554.74L214.55 554.16L215.01 553.55L215.47 552.92L215.93 552.26L216.39 551.57L216.85 550.84L217.31 550.08L217.77 549.29L218.23 548.45L218.69 547.57L219.15 546.65L219.61 545.69L220.07 544.68L220.53 543.63L220.99 542.54L221.45 541.41L221.91 540.23L222.37 539.02L222.83 537.77L223.29 536.48L223.75 535.16L224.21 533.81L224.67 532.44L225.13 531.03L225.59 529.61L226.05 528.17L226.51 526.71L226.97 525.24L227.43 523.76L227.89 522.27L228.35 520.78L228.81 519.28L229.27 517.78L229.73 516.27L230.19 514.78L230.65 513.28L231.11 511.79L231.57 510.31L232.03 508.83L232.49 507.36L232.95 505.9L233.41 504.45L233.87 503.02L234.33 501.59L234.79 500.18L235.25 498.78L235.71 497.4L236.17 496.02L236.63 494.66L237.09 493.31L237.55 491.98L238.01 490.65L238.47 489.34L238.93 488.04L239.39 486.75L239.85 485.48L240.31 484.21L240.77 482.95L241.23 481.71L241.69 480.47L242.15 479.25L242.61 478.04L243.07 476.84L243.53 475.65L243.99 474.47L244.45 473.31L244.91 472.16L245.37 471.02L245.83 469.9L246.29 468.79L246.75 467.71L247.21 466.65L247.67 465.64L248.13 464.69L248.59 463.86L249.05 463.2L249.52 462.75L249.98 462.52L250.44 462.45L250.9 462.49L251.36 462.59L251.82 462.73L252.28 462.91L252.74 463.11L253.2 463.34L253.66 463.6L254.12 463.88L254.58 464.18L255.04 464.51L255.5 464.86L255.96 465.24L256.42 465.64L256.88 466.07L257.34 466.52L257.8 467L258.26 467.51L258.72 468.04L259.18 468.6L259.64 469.19L260.1 469.8L260.56 470.44L261.02 471.11L261.48 471.81L261.94 472.53L262.4 473.29L262.86 474.07L263.32 474.89L263.78 475.74L264.24 476.62L264.7 477.53L265.16 478.47L265.62 479.45L266.08 480.46L266.54 481.5L267 482.58L267.46 483.7L267.92 484.85L268.38 486.04L268.84 487.26L269.3 488.53L269.76 489.83L270.22 491.17L270.68 492.56L271.14 493.98L271.6 495.45L272.06 496.96L272.52 498.51L272.98 500.11L273.44 501.75L273.9 503.43L274.36 505.15L274.82 506.92L275.28 508.74L275.74 510.6L276.2 512.5L276.66 514.44L277.12 516.43L277.58 518.47L278.04 520.55L278.5 522.67L278.96 524.83L279.42 527.04L279.88 529.29L280.34 531.59L280.8 533.93L281.26 536.31L281.72 538.74L282.18 541.21L282.64 543.72L283.1 546.28L283.56 548.88L284.02 551.53L284.48 554.23L284.94 556.97L285.4 559.75L285.86 562.58L286.07 563.6L356.4 563.6" stroke="#d0d0d0" stroke-width="1.35" fill="none" stroke-linejoin="round"/>
<path d="M49.7 563.6L203.05 563.6L203.51 563.57L203.97 563.48L204.43 563.33L204.89 563.14L205.35 562.9L205.81 562.63L206.27 562.32L206.73 562L207.19 561.65L207.65 561.29L208.11 560.91L208.57 560.52L209.03 560.11L209.49 559.69L209.95 559.26L210.41 558.81L210.87 558.35L211.33 557.88L211.79 557.39L212.25 556.89L212.71 556.38L213.17 555.85L213.63 555.31L214.09 554.74L214.55 554.16L215.01 553.55L215.47 552.92L215.93 552.26L216.39 551.57L216.85 550.84L217.31 550.08L217.77 549.29L218.23 548.45L218.69 547.57L219.15 546.65L219.61 545.69L220.07 544.68L220.53 543.63L220.99 542.54L221.45 541.41L221.91 540.23L222.37 539.02L222.83 537.77L223.29 536.48L223.75 535.16L224.21 533.81L224.67 532.44L225.13 531.03L225.59 529.61L226.05 528.17L226.51 526.71L226.97 525.24L227.43 523.76L227.89 522.27L228.35 520.78L228.81 519.28L229.27 517.78L229.73 516.27L230.19 514.78L230.65 513.28L231.11 511.79L231.57 510.31L232.03 508.83L232.49 507.36L232.95 505.9L233.41 504.45L233.87 503.02L234.33 501.59L234.79 500.18L235.25 498.78L235.71 497.4L236.17 496.02L236.63 494.66L237.09 493.31L237.55 491.98L238.01 490.65L238.47 489.34L238.93 488.04L239.39 486.75L239.85 485.48L240.31 484.21L240.77 482.95L241.23 481.71L241.69 480.47L242.15 479.25L242.61 478.04L243.07 476.84L243.53 475.65L243.99 474.47L244.45 473.31L244.91 472.16L245.37 471.02L245.83 469.89L246.29 468.78L246.75 467.69L247.21 466.62L247.67 465.57L248.13 464.54L248.59 463.55L249.05 462.61L249.52 461.75L249.98 461.02L250.44 460.46L250.9 460.09L251.36 459.9L251.82 459.84L252.28 459.87L252.74 459.96L253.2 460.09L253.66 460.26L254.12 460.46L254.58 460.68L255.04 460.92L255.5 461.2L255.96 461.49L256.42 461.81L256.88 462.16L257.34 462.53L257.8 462.93L258.26 463.35L258.72 463.8L259.18 464.28L259.64 464.78L260.1 465.31L260.56 465.87L261.02 466.45L261.48 467.06L261.94 467.7L262.4 468.37L262.86 469.07L263.32 469.79L263.78 470.55L264.24 471.34L264.7 472.15L265.16 473L265.62 473.89L266.08 474.8L266.54 475.75L267 476.73L267.46 477.74L267.92 478.79L268.38 479.88L268.84 481L269.3 482.16L269.76 483.35L270.22 484.58L270.68 485.86L271.14 487.17L271.6 488.52L272.06 489.92L272.52 491.35L272.98 492.83L273.44 494.35L273.9 495.92L274.36 497.53L274.82 499.18L275.28 500.88L275.74 502.62L276.2 504.41L276.66 506.24L277.12 508.12L277.58 510.04L278.04 512.01L278.5 514.02L278.96 516.08L279.42 518.18L279.88 520.33L280.34 522.52L280.8 524.76L281.26 527.04L281.72 529.37L282.18 531.74L282.64 534.15L283.1 536.61L283.56 539.12L284.02 541.67L284.48 544.27L284.94 546.91L285.4 549.59L285.86 552.33L286.32 555.11L286.78 557.93L287.24 560.81L287.7 563.6L287.73 563.6L356.4 563.6" stroke="#b6b6b6" stroke-width="1.35" fill="none" stroke-linejoin="round"/>
<path d="M49.7 563.6L203.05 563.6L203.51 563.57L203.97 563.48L204.43 563.33L204.89 563.14L205.35 562.9L205.81 562.63L206.27 562.32L206.73 562L207.19 561.65L207.65 561.29L208.11 560.91L208.57 560.52L209.03 560.11L209.49 559.69L209.95 559.26L210.41 558.81L210.87 558.35L211.33 557.88L211.79 557.39L212.25 556.89L212.71 556.38L213.17 555.85L213.63 555.31L214.09 554.74L214.55 554.16L215.01 553.55L215.47 552.92L215.93 552.26L216.39 551.57L216.85 550.84L217.31 550.08L217.77 549.29L218.23 548.45L218.69 547.57L219.15 546.65L219.61 545.69L220.07 544.68L220.53 543.63L220.99 542.54L221.45 541.41L221.91 540.23L222.37 539.02L222.83 537.77L223.29 536.48L223.75 535.16L224.21 533.81L224.67 532.44L225.13 531.03L225.59 529.61L226.05 528.17L226.51 526.71L226.97 525.24L227.43 523.76L227.89 522.27L228.35 520.78L228.81 519.28L229.27 517.78L229.73 516.27L230.19 514.78L230.65 513.28L231.11 511.79L231.57 510.31L232.03 508.83L232.49 507.36L232.95 505.9L233.41 504.45L233.87 503.02L234.33 501.59L234.79 500.18L235.25 498.78L235.71 497.4L236.17 496.02L236.63 494.66L237.09 493.31L237.55 491.98L238.01 490.65L238.47 489.34L238.93 488.04L239.39 486.75L239.85 485.48L240.31 484.21L240.77 482.95L241.23 481.71L241.69 480.47L242.15 479.25L242.61 478.04L243.07 476.84L243.53 475.65L243.99 474.47L244.45 473.31L244.91 472.16L245.37 471.02L245.83 469.89L246.29 468.78L246.75 467.69L247.21 466.61L247.67 465.55L248.13 464.51L248.59 463.5L249.05 462.5L249.52 461.54L249.98 460.63L250.44 459.77L250.9 458.99L251.36 458.34L251.82 457.84L252.28 457.51L252.74 457.32L253.2 457.26L253.66 457.27L254.12 457.34L254.58 457.46L255.04 457.61L255.5 457.79L255.96 458L256.42 458.24L256.88 458.5L257.34 458.78L257.8 459.1L258.26 459.43L258.72 459.8L259.18 460.19L259.64 460.6L260.1 461.05L260.56 461.52L261.02 462.01L261.48 462.54L261.94 463.09L262.4 463.67L262.86 464.27L263.32 464.91L263.78 465.57L264.24 466.27L264.7 466.99L265.16 467.75L265.62 468.53L266.08 469.35L266.54 470.2L267 471.08L267.46 471.99L267.92 472.94L268.38 473.92L268.84 474.94L269.3 475.99L269.76 477.08L270.22 478.2L270.68 479.36L271.14 480.56L271.6 481.8L272.06 483.08L272.52 484.4L272.98 485.75L273.44 487.15L273.9 488.6L274.36 490.08L274.82 491.61L275.28 493.18L275.74 494.8L276.2 496.47L276.66 498.17L277.12 499.93L277.58 501.73L278.04 503.57L278.5 505.47L278.96 507.41L279.42 509.39L279.88 511.42L280.34 513.5L280.8 515.63L281.26 517.8L281.72 520.01L282.18 522.27L282.64 524.58L283.1 526.93L283.56 529.33L284.02 531.78L284.48 534.27L284.94 536.8L285.4 539.39L285.86 542.01L286.32 544.69L286.78 547.41L287.24 550.18L287.7 553L288.16 555.86L288.62 558.77L289.08 561.73L289.42 563.6L356.4 563.6" stroke="#999999" stroke-width="1.35" fill="none" stroke-linejoin="round"/>
<path d="M49.7 563.6L203.05 563.6L203.51 563.57L203.97 563.48L204.43 563.33L204.89 563.14L205.35 562.9L205.81 562.63L206.27 562.32L206.73 562L207.19 561.65L207.65 561.29L208.11 560.91L208.57 560.52L209.03 560.11L209.49 559.69L209.95 559.26L210.41 558.81L210.87 558.35L211.33 557.88L211.79 557.39L212.25 556.89L212.71 556.38L213.17 555.85L213.63 555.31L214.09 554.74L214.55 554.16L215.01 553.55L215.47 552.92L215.93 552.26L216.39 551.57L216.85 550.84L217.31 550.08L217.77 549.29L218.23 548.45L218.69 547.57L219.15 546.65L219.61 545.69L220.07 544.68L220.53 543.63L220.99 542.54L221.45 541.41L221.91 540.23L222.37 539.02L222.83 537.77L223.29 536.48L223.75 535.16L224.21 533.81L224.67 532.44L225.13 531.03L225.59 529.61L226.05 528.17L226.51 526.71L226.97 525.24L227.43 523.76L227.89 522.27L228.35 520.78L228.81 519.28L229.27 517.78L229.73 516.27L230.19 514.78L230.65 513.28L231.11 511.79L231.57 510.31L232.03 508.83L232.49 507.36L232.95 505.9L233.41 504.45L233.87 503.02L234.33 501.59L234.79 500.18L235.25 498.78L235.71 497.4L236.17 496.02L236.63 494.66L237.09 493.31L237.55 491.98L238.01 490.65L238.47 489.34L238.93 488.04L239.39 486.75L239.85 485.48L240.31 484.21L240.77 482.95L241.23 481.71L241.69 480.47L242.15 479.25L242.61 478.04L243.07 476.84L243.53 475.65L243.99 474.47L244.45 473.31L244.91 472.16L245.37 471.02L245.83 469.89L246.29 468.78L246.75 467.69L247.21 466.61L247.67 465.55L248.13 464.51L248.59 463.49L249.05 462.49L249.52 461.51L249.98 460.56L250.44 459.63L250.9 458.75L251.36 457.91L251.82 457.13L252.28 456.43L252.74 455.83L253.2 455.36L253.66 455.02L254.12 454.8L254.58 454.69L255.04 454.66L255.5 454.69L255.96 454.77L256.42 454.89L256.88 455.04L257.34 455.22L257.8 455.43L258.26 455.66L258.72 455.93L259.18 456.22L259.64 456.53L260.1 456.87L260.56 457.24L261.02 457.63L261.48 458.05L261.94 458.5L262.4 458.98L262.86 459.48L263.32 460.01L263.78 460.57L264.24 461.15L264.7 461.77L265.16 462.42L265.62 463.09L266.08 463.8L266.54 464.53L267 465.3L267.46 466.1L267.92 466.93L268.38 467.79L268.84 468.68L269.3 469.61L269.76 470.58L270.22 471.57L270.68 472.61L271.14 473.68L271.6 474.78L272.06 475.93L272.52 477.11L272.98 478.33L273.44 479.59L273.9 480.89L274.36 482.23L274.82 483.61L275.28 485.03L275.74 486.5L276.2 488.02L276.66 489.57L277.12 491.17L277.58 492.82L278.04 494.52L278.5 496.26L278.96 498.04L279.42 499.88L279.88 501.76L280.34 503.69L280.8 505.66L281.26 507.68L281.72 509.76L282.18 511.87L282.64 514.04L283.1 516.25L283.56 518.51L284.02 520.82L284.48 523.17L284.94 525.57L285.4 528.02L285.86 530.51L286.32 533.05L286.78 535.64L287.24 538.27L287.7 540.96L288.16 543.68L288.62 546.46L289.08 549.29L289.54 552.16L290 555.08L290.46 558.06L290.92 561.08L291.35 563.6L356.4 563.6" stroke="#7a7a7a" stroke-width="1.35" fill="none" stroke-linejoin="round"/>
<path d="M49.7 563.6L203.05 563.6L203.51 563.57L203.97 563.48L204.43 563.33L204.89 563.14L205.35 562.9L205.81 562.63L206.27 562.32L206.73 562L207.19 561.65L207.65 561.29L208.11 560.91L208.57 560.52L209.03 560.11L209.49 559.69L209.95 559.26L210.41 558.81L210.87 558.35L211.33 557.88L211.79 557.39L212.25 556.89L212.71 556.38L213.17 555.85L213.63 555.31L214.09 554.74L214.55 554.16L215.01 553.55L215.47 552.92L215.93 552.26L216.39 551.57L216.85 550.84L217.31 550.08L217.77 549.29L218.23 548.45L218.69 547.57L219.15 546.65L219.61 545.69L220.07 544.68L220.53 543.63L220.99 542.54L221.45 541.41L221.91 540.23L222.37 539.02L222.83 537.77L223.29 536.48L223.75 535.16L224.21 533.81L224.67 532.44L225.13 531.03L225.59 529.61L226.05 528.17L226.51 526.71L226.97 525.24L227.43 523.76L227.89 522.27L228.35 520.78L228.81 519.28L229.27 517.78L229.73 516.27L230.19 514.78L230.65 513.28L231.11 511.79L231.57 510.31L232.03 508.83L232.49 507.36L232.95 505.9L233.41 504.45L233.87 503.02L234.33 501.59L234.79 500.18L235.25 498.78L235.71 497.4L236.17 496.02L236.63 494.66L237.09 493.31L237.55 491.98L238.01 490.65L238.47 489.34L238.93 488.04L239.39 486.75L239.85 485.48L240.31 484.21L240.77 482.95L241.23 481.71L241.69 480.47L242.15 479.25L242.61 478.04L243.07 476.84L243.53 475.65L243.99 474.47L244.45 473.31L244.91 472.16L245.37 471.02L245.83 469.89L246.29 468.78L246.75 467.69L247.21 466.61L247.67 465.55L248.13 464.51L248.59 463.49L249.05 462.48L249.52 461.5L249.98 460.54L250.44 459.61L250.9 458.7L251.36 457.82L251.82 456.97L252.28 456.16L252.74 455.4L253.2 454.69L253.66 454.04L254.12 453.48L254.58 453.02L255.04 452.65L255.5 452.39L255.96 452.22L256.42 452.14L256.88 452.12L257.34 452.15L257.8 452.22L258.26 452.34L258.72 452.49L259.18 452.67L259.64 452.88L260.1 453.11L260.56 453.38L261.02 453.67L261.48 453.98L261.94 454.33L262.4 454.7L262.86 455.1L263.32 455.53L263.78 455.98L264.24 456.46L264.7 456.97L265.16 457.51L265.62 458.08L266.08 458.68L266.54 459.3L267 459.96L267.46 460.65L267.92 461.37L268.38 462.11L268.84 462.89L269.3 463.71L269.76 464.55L270.22 465.43L270.68 466.34L271.14 467.29L271.6 468.27L272.06 469.29L272.52 470.34L272.98 471.43L273.44 472.55L273.9 473.72L274.36 474.92L274.82 476.17L275.28 477.45L275.74 478.77L276.2 480.14L276.66 481.55L277.12 483L277.58 484.5L278.04 486.04L278.5 487.63L278.96 489.26L279.42 490.94L279.88 492.67L280.34 494.44L280.8 496.26L281.26 498.13L281.72 500.05L282.18 502.02L282.64 504.03L283.1 506.1L283.56 508.21L284.02 510.37L284.48 512.58L284.94 514.84L285.4 517.15L285.86 519.5L286.32 521.9L286.78 524.35L287.24 526.85L287.7 529.39L288.16 531.99L288.62 534.63L289.08 537.32L289.54 540.06L290 542.84L290.46 545.68L290.92 548.56L291.38 551.5L291.84 554.48L292.3 557.52L292.76 560.6L293.22 563.6L293.25 563.6L356.4 563.6" stroke="#4a4a4a" stroke-width="1.35" fill="none" stroke-linejoin="round"/>
<path d="M49.7 563.6L203.05 563.6L203.51 563.59L203.97 563.5L204.43 563.35L204.89 563.15L205.35 562.91L205.81 562.64L206.27 562.33L206.73 562L207.19 561.65L207.65 561.29L208.11 560.92L208.57 560.52L209.03 560.12L209.49 559.69L209.95 559.26L210.41 558.81L210.87 558.35L211.33 557.88L211.79 557.39L212.25 556.89L212.71 556.38L213.17 555.85L213.63 555.31L214.09 554.74L214.55 554.16L215.01 553.55L215.47 552.92L215.93 552.26L216.39 551.57L216.85 550.84L217.31 550.08L217.77 549.29L218.23 548.45L218.69 547.57L219.15 546.65L219.61 545.69L220.07 544.68L220.53 543.63L220.99 542.54L221.45 541.41L221.91 540.23L222.37 539.02L222.83 537.77L223.29 536.48L223.75 535.16L224.21 533.81L224.67 532.44L225.13 531.03L225.59 529.61L226.05 528.17L226.51 526.71L226.97 525.24L227.43 523.76L227.89 522.27L228.35 520.78L228.81 519.28L229.27 517.78L229.73 516.27L230.19 514.78L230.65 513.28L231.11 511.79L231.57 510.31L232.03 508.83L232.49 507.36L232.95 505.9L233.41 504.45L233.87 503.02L234.33 501.59L234.79 500.18L235.25 498.78L235.71 497.4L236.17 496.02L236.63 494.66L237.09 493.31L237.55 491.98L238.01 490.65L238.47 489.34L238.93 488.04L239.39 486.75L239.85 485.48L240.31 484.21L240.77 482.95L241.23 481.71L241.69 480.47L242.15 479.25L242.61 478.04L243.07 476.84L243.53 475.65L243.99 474.47L244.45 473.31L244.91 472.16L245.37 471.02L245.83 469.89L246.29 468.78L246.75 467.69L247.21 466.61L247.67 465.55L248.13 464.51L248.59 463.49L249.05 462.48L249.52 461.5L249.98 460.54L250.44 459.6L250.9 458.69L251.36 457.81L251.82 456.95L252.28 456.12L252.74 455.32L253.2 454.55L253.66 453.82L254.12 453.13L254.58 452.49L255.04 451.9L255.5 451.37L255.96 450.91L256.42 450.52L256.88 450.2L257.34 449.95L257.8 449.77L258.26 449.65L258.72 449.59L259.18 449.58L259.64 449.62L260.1 449.69L260.56 449.8L261.02 449.95L261.48 450.12L261.94 450.33L262.4 450.56L262.86 450.83L263.32 451.12L263.78 451.44L264.24 451.79L264.7 452.16L265.16 452.57L265.62 453L266.08 453.46L266.54 453.95L267 454.47L267.46 455.02L267.92 455.59L268.38 456.2L268.84 456.84L269.3 457.5L269.76 458.2L270.22 458.93L270.68 459.69L271.14 460.49L271.6 461.31L272.06 462.17L272.52 463.07L272.98 463.99L273.44 464.96L273.9 465.96L274.36 466.99L274.82 468.06L275.28 469.17L275.74 470.32L276.2 471.51L276.66 472.73L277.12 474L277.58 475.3L278.04 476.65L278.5 478.05L278.96 479.48L279.42 480.96L279.88 482.49L280.34 484.06L280.8 485.67L281.26 487.34L281.72 489.05L282.18 490.81L282.64 492.62L283.1 494.47L283.56 496.38L284.02 498.34L284.48 500.34L284.94 502.4L285.4 504.5L285.86 506.66L286.32 508.86L286.78 511.11L287.24 513.42L287.7 515.77L288.16 518.17L288.62 520.62L289.08 523.12L289.54 525.67L290 528.26L290.46 530.91L290.92 533.6L291.38 536.35L291.84 539.14L292.3 541.99L292.76 544.88L293.22 547.83L293.68 550.82L294.14 553.87L294.6 556.96L295.06 560.11L295.52 563.31L295.61 563.6L356.4 563.6" stroke="#1a1a1a" stroke-width="1.35" fill="none" stroke-linejoin="round"/>
<path d="M49.7 563.6L203.05 563.6L203.51 563.6L203.97 563.6L204.43 563.46L204.89 563.24L205.35 562.99L205.81 562.71L206.27 562.4L206.73 562.06L207.19 561.71L207.65 561.34L208.11 560.96L208.57 560.57L209.03 560.16L209.49 559.73L209.95 559.29L210.41 558.84L210.87 558.38L211.33 557.9L211.79 557.41L212.25 556.91L212.71 556.4L213.17 555.86L213.63 555.32L214.09 554.75L214.55 554.17L215.01 553.56L215.47 552.92L215.93 552.26L216.39 551.57L216.85 550.85L217.31 550.09L217.77 549.29L218.23 548.45L218.69 547.57L219.15 546.65L219.61 545.69L220.07 544.68L220.53 543.63L220.99 542.54L221.45 541.41L221.91 540.23L222.37 539.02L222.83 537.77L223.29 536.48L223.75 535.16L224.21 533.81L224.67 532.44L225.13 531.03L225.59 529.61L226.05 528.17L226.51 526.71L226.97 525.24L227.43 523.76L227.89 522.27L228.35 520.78L228.81 519.28L229.27 517.78L229.73 516.27L230.19 514.78L230.65 513.28L231.11 511.79L231.57 510.31L232.03 508.83L232.49 507.36L232.95 505.9L233.41 504.46L233.87 503.02L234.33 501.59L234.79 500.18L235.25 498.78L235.71 497.4L236.17 496.02L236.63 494.66L237.09 493.31L237.55 491.98L238.01 490.65L238.47 489.34L238.93 488.04L239.39 486.76L239.85 485.48L240.31 484.21L240.77 482.95L241.23 481.71L241.69 480.48L242.15 479.25L242.61 478.04L243.07 476.84L243.53 475.65L243.99 474.47L244.45 473.31L244.91 472.16L245.37 471.02L245.83 469.9L246.29 468.79L246.75 467.69L247.21 466.62L247.67 465.56L248.13 464.52L248.59 463.49L249.05 462.49L249.52 461.51L249.98 460.55L250.44 459.62L250.9 458.71L251.36 457.82L251.82 456.96L252.28 456.13L252.74 455.33L253.2 454.56L253.66 453.81L254.12 453.1L254.58 452.43L255.04 451.78L255.5 451.18L255.96 450.61L256.42 450.09L256.88 449.6L257.34 449.16L257.8 448.76L258.26 448.4L258.72 448.09L259.18 447.82L259.64 447.6L260.1 447.42L260.56 447.28L261.02 447.19L261.48 447.13L261.94 447.11L262.4 447.13L262.86 447.18L263.32 447.27L263.78 447.39L264.24 447.54L264.7 447.72L265.16 447.93L265.62 448.11L266.08 448.4L266.54 448.71L267 449.05L267.46 449.41L267.92 449.81L268.38 450.23L268.84 450.68L269.3 451.17L269.76 451.68L270.22 452.22L270.68 452.79L271.14 453.39L271.6 454.02L272.06 454.68L272.52 455.37L272.98 456.09L273.44 456.85L273.9 457.64L274.36 458.46L274.82 459.32L275.28 460.21L275.74 461.13L276.2 462.1L276.66 463.09L277.12 464.12L277.58 465.2L278.04 466.3L278.5 467.45L278.96 468.64L279.42 469.86L279.88 471.13L280.34 472.44L280.8 473.79L281.26 475.18L281.72 476.62L282.18 478.1L282.64 479.63L283.1 481.2L283.56 482.83L284.02 484.5L284.48 486.21L284.94 487.98L285.4 489.79L285.86 491.66L286.32 493.58L286.78 495.54L287.24 497.56L287.7 499.62L288.16 501.74L288.62 503.91L289.08 506.13L289.54 508.4L290 510.72L290.46 513.09L290.92 515.51L291.38 517.98L291.84 520.51L292.3 523.08L292.76 525.7L293.22 528.37L293.68 531.09L294.14 533.86L294.6 536.69L295.06 539.56L295.52 542.49L295.98 545.46L296.44 548.49L296.9 551.57L297.36 554.7L297.82 557.88L298.28 561.12L298.68 563.6L356.4 563.6" stroke="#000" stroke-width="1.35" fill="none" stroke-linejoin="round"/>
<path d="M49.7 563.6L203.05 563.6L203.51 563.57L203.97 563.48L204.43 563.33L204.89 563.14L205.35 562.9L205.81 562.63L206.27 562.32L206.73 562L207.19 561.65L207.65 561.29L208.11 560.91L208.57 560.52L209.03 560.11L209.49 559.69L209.95 559.26L210.41 558.81L210.87 558.35L211.33 557.88L211.79 557.39L212.25 556.89L212.71 556.38L213.17 555.85L213.63 555.31L214.09 554.74L214.55 554.16L215.01 553.55L215.47 552.92L215.93 552.26L216.39 551.57L216.85 550.84L217.31 550.08L217.77 549.29L218.23 548.45L218.69 547.57L219.15 546.65L219.61 545.69L220.07 544.68L220.53 543.63L220.99 542.54L221.45 541.41L221.91 540.23L222.37 539.02L222.83 537.77L223.29 536.48L223.75 535.16L224.21 533.81L224.67 532.44L225.13 531.03L225.59 529.61L226.05 528.17L226.51 526.71L226.97 525.24L227.43 523.76L227.89 522.27L228.35 520.78L228.81 519.28L229.27 517.78L229.73 516.27L230.19 514.78L230.65 513.28L231.11 511.79L231.57 510.31L232.03 508.83L232.49 507.36L232.95 505.9L233.41 504.45L233.87 503.02L234.33 501.59L234.79 500.18L235.25 498.78L235.71 497.4L236.17 496.02L236.63 494.66L237.09 493.31L237.55 491.98L238.01 490.65L238.47 489.34L238.93 488.04L239.39 486.75L239.85 485.48L240.31 484.21L240.77 482.95L241.23 481.71L241.69 480.47L242.15 479.25L242.61 478.04L243.07 476.84L243.53 475.65L243.99 474.47L244.45 473.31L244.91 472.16L245.37 471.02L245.83 469.89L246.29 468.78L246.75 467.69L247.21 466.61L247.67 465.55L248.13 464.51L248.59 463.48L249.05 462.48L249.52 461.5L249.98 460.53L250.44 459.6L250.9 458.68L251.36 457.79L251.82 456.92L252.28 456.08L252.74 455.27L253.2 454.48L253.66 453.72L254.12 452.99L254.58 452.28L255.04 451.6L255.5 450.96L255.96 450.34L256.42 449.75L256.88 449.19L257.34 448.66L257.8 448.17L258.26 447.7L258.72 447.26L259.18 446.85L259.64 446.47L260.1 446.13L260.56 445.81L261.02 445.52L261.48 445.26L261.94 445.03L262.4 444.83L262.86 444.66L263.32 444.52L263.78 444.41L264.24 444.32L264.7 444.26L265.16 444.23L265.62 444.23L266.08 444.26L266.54 444.31L267 444.39L267.46 444.5L267.92 444.64L268.38 444.8L268.84 445L269.3 445.22L269.76 445.47L270.22 445.74L270.68 446.05L271.14 446.38L271.6 446.74L272.06 447.13L272.52 447.55L272.98 448L273.44 448.48L273.9 448.98L274.36 449.52L274.82 450.09L275.28 450.69L275.74 451.32L276.2 451.98L276.66 452.67L277.12 453.4L277.58 454.15L278.04 454.95L278.5 455.77L278.96 456.63L279.42 457.52L279.88 458.45L280.34 459.42L280.8 460.42L281.26 461.46L281.72 462.53L282.18 463.65L282.64 464.8L283.1 465.99L283.56 467.23L284.02 468.5L284.48 469.82L284.94 471.18L285.4 472.58L285.86 474.03L286.32 475.52L286.78 477.06L287.24 478.65L287.7 480.28L288.16 481.97L288.62 483.7L289.08 485.48L289.54 487.31L290 489.19L290.46 491.13L290.92 493.11L291.38 495.15L291.84 497.24L292.3 499.38L292.76 501.57L293.22 503.81L293.68 506.11L294.14 508.45L294.6 510.85L295.06 513.3L295.52 515.8L295.98 518.36L296.44 520.96L296.9 523.61L297.36 526.32L297.82 529.08L298.28 531.89L298.74 534.75L299.2 537.66L299.66 540.62L300.12 543.64L300.58 546.71L301.04 549.83L301.5 553L301.96 556.23L302.42 559.51L302.88 562.85L303.03 563.6L356.4 563.6" stroke="#000" stroke-width="1.5" fill="none" stroke-linejoin="round"/>
<path d="M49.7 435.1V589.2H356.4M49.7 589.2h2.6M49.7 563.65h2.6M49.7 537.7h2.6M49.7 511.8h2.6M49.7 485.85h2.6M49.7 459.9h2.6M49.7 435.1h2.6M49.7 589.2v-3.2M111.04 589.2v-3.2M172.38 589.2v-3.2M233.72 589.2v-3.2M295.06 589.2v-3.2M356.4 589.2v-3.2" stroke="#000" stroke-width="1.5" fill="none" stroke-linecap="square"/>
<text x="45.4" y="594.2" text-anchor="end" font-size="13.1">-10</text>
<text x="45.4" y="568.65" text-anchor="end" font-size="13.1">0</text>
<text x="45.4" y="542.7" text-anchor="end" font-size="13.1">10</text>
<text x="45.4" y="516.8" text-anchor="end" font-size="13.1">20</text>
<text x="45.4" y="490.85" text-anchor="end" font-size="13.1">30</text>
<text x="45.4" y="464.9" text-anchor="end" font-size="13.1">40</text>
<text x="45.4" y="440.1" text-anchor="end" font-size="13.1">50</text>
<text x="49.5" y="604.5" text-anchor="middle" font-size="13.1">0</text>
<text x="110.84" y="604.5" text-anchor="middle" font-size="13.1">20</text>
<text x="172.18" y="604.5" text-anchor="middle" font-size="13.1">40</text>
<text x="233.52" y="604.5" text-anchor="middle" font-size="13.1">60</text>
<text x="294.86" y="604.5" text-anchor="middle" font-size="13.1">80</text>
<text x="356.2" y="604.5" text-anchor="middle" font-size="13.1">100</text>
<text transform="translate(13.9 511.65) rotate(-90)" text-anchor="middle" font-size="14.8">Knee angle (°)</text>
<path d="M98.95 152L98.95 59.9" stroke="#000" stroke-width="2.5" fill="none"/>
<path d="M98.95 50L104.45 60.9L93.45 60.9Z" fill="#000"/>
<path d="M248.9 307.2L263.32 242.76" stroke="#000" stroke-width="2.2" fill="none"/>
<path d="M265.5 233L268.47 244.94L257.73 242.53Z" fill="#000"/>
<path d="M245.9 489.1L270.16 436.98" stroke="#000" stroke-width="2.2" fill="none"/>
<path d="M274.3 428.1L274.55 440.13L264.94 435.65Z" fill="#000"/>
<text x="0.8" y="16" font-size="17" font-weight="bold">(a)</text>
<text x="0.2" y="227" font-size="17" font-weight="bold">(b)</text>
<text x="0" y="439.3" font-size="17" font-weight="bold">(c)</text>
<text x="130.2" y="15.8" font-size="14.6" fill="#848484" class="g">STANCE</text>
<text x="216.6" y="15.8" font-size="14.6" fill="#848484" class="g">SWING</text>
<text x="102" y="33.4" font-size="13.4" text-anchor="middle">Increasing</text>
<text x="101.1" y="46.6" font-size="13.4" text-anchor="middle">crouch angle</text>
<text x="303" y="235.6" font-size="13.4" text-anchor="middle">Increasing</text>
<text x="303" y="248.6" font-size="13.4" text-anchor="middle">push-off</text>
<text x="282.4" y="432.4" font-size="13.4">Increasing</text>
<text x="281.8" y="445.4" font-size="13.4">hip spring</text>
<text x="166.6" y="623.6" font-size="15">% Gait cycle</text>
</svg>
</body></html>
